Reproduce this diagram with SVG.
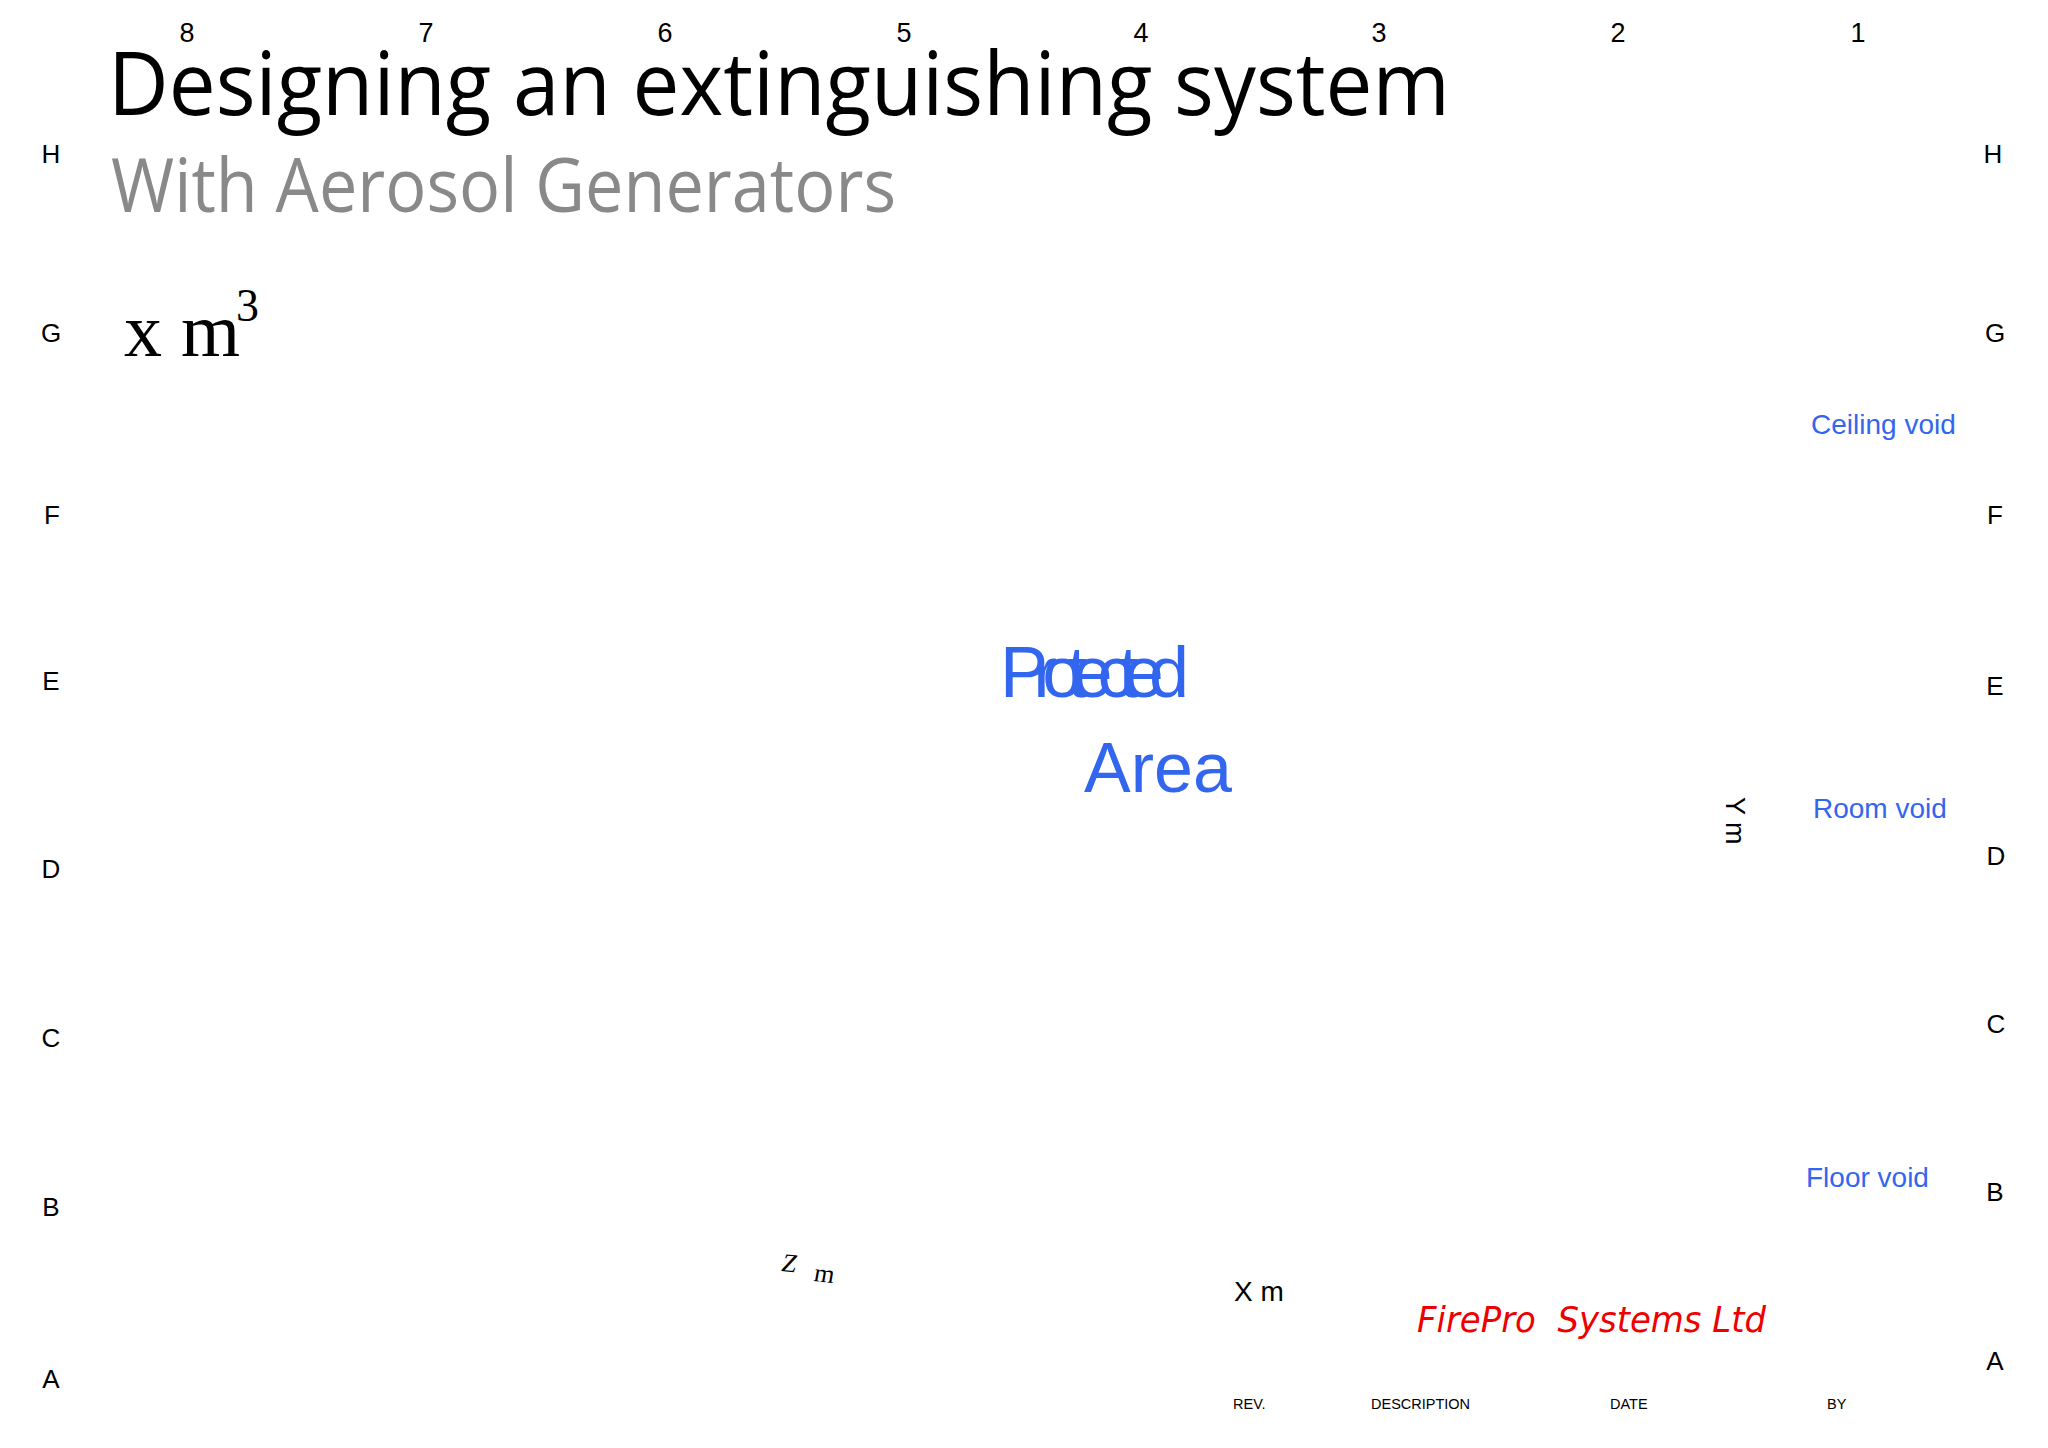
<svg xmlns="http://www.w3.org/2000/svg" width="2048" height="1448" viewBox="0 0 2048 1448">
<style>
.bg{fill:#ffffff}
.grid{font-family:"Liberation Sans",Arial,sans-serif;font-size:26px;fill:#000000;text-anchor:middle}
.col{font-family:"Liberation Sans",Arial,sans-serif;font-size:27px;fill:#000000;text-anchor:middle}
.title{font-family:"Open Sans","Noto Sans",sans-serif;fill:#000000}
.sub{font-family:"Open Sans","Noto Sans",sans-serif;fill:#898989}
.serif{font-family:"Liberation Serif","Times New Roman",serif;fill:#000000}
.blue{font-family:"Liberation Sans",Arial,sans-serif;fill:#3366EE}
.lbl{font-family:"Liberation Sans",Arial,sans-serif;fill:#000000}
.red{font-family:"DejaVu Sans",Verdana,sans-serif;font-style:italic;fill:#EE0000;white-space:pre}
.tb{font-family:"Liberation Sans",Arial,sans-serif;font-size:14.5px;fill:#000000}
</style>
<rect class="bg" x="0" y="0" width="2048" height="1448"/>
<g id="column-numbers">
<text class="col" x="187" y="42">8</text>
<text class="col" x="426" y="42">7</text>
<text class="col" x="665" y="42">6</text>
<text class="col" x="904" y="42">5</text>
<text class="col" x="1141" y="42">4</text>
<text class="col" x="1379" y="42">3</text>
<text class="col" x="1618" y="42">2</text>
<text class="col" x="1858" y="42">1</text>
</g>
<g id="row-letters-left">
<text class="grid" x="51" y="163">H</text>
<text class="grid" x="51" y="342">G</text>
<text class="grid" x="52" y="524">F</text>
<text class="grid" x="51" y="690">E</text>
<text class="grid" x="51" y="878">D</text>
<text class="grid" x="51" y="1047">C</text>
<text class="grid" x="51" y="1216">B</text>
<text class="grid" x="51" y="1388">A</text>
</g>
<g id="row-letters-right">
<text class="grid" x="1993" y="163">H</text>
<text class="grid" x="1995" y="342">G</text>
<text class="grid" x="1995" y="524">F</text>
<text class="grid" x="1995" y="695">E</text>
<text class="grid" x="1996" y="865">D</text>
<text class="grid" x="1996" y="1033">C</text>
<text class="grid" x="1995" y="1201">B</text>
<text class="grid" x="1995" y="1370">A</text>
</g>
<g id="title">
<text class="title" x="108" y="115" font-size="88" textLength="1342" lengthAdjust="spacingAndGlyphs">Designing an extinguishing system</text>
<text class="sub" x="111" y="212" font-size="75" textLength="785" lengthAdjust="spacingAndGlyphs">With Aerosol Generators</text>
</g>
<g id="volume">
<text class="serif" x="124" y="356" font-size="76">x m</text>
<text class="serif" x="236" y="321" font-size="46">3</text>
</g>
<g id="protected-area">
<text class="blue" x="1000" y="697" font-size="72" textLength="189" lengthAdjust="spacing">Protected</text>
<text class="blue" x="1084" y="792" font-size="70">Area</text>
</g>
<g id="void-labels">
<text class="blue" x="1811" y="434" font-size="28">Ceiling void</text>
<text class="blue" x="1813" y="818" font-size="28">Room void</text>
<text class="blue" x="1806" y="1187" font-size="28">Floor void</text>
</g>
<g id="dimensions">
<text class="lbl" font-size="27" transform="translate(1726,797) rotate(90)">Y m</text>
<text class="lbl" x="1234" y="1301" font-size="28">X m</text>
<text class="serif" font-size="26" font-style="italic" transform="translate(781,1271) rotate(6)">Z</text>
<text class="serif" font-size="26" transform="translate(813,1281) rotate(6) skewX(-4)">m</text>
</g>
<g id="company">
<text class="red" x="1417" y="1332" font-size="35" textLength="349" lengthAdjust="spacingAndGlyphs" xml:space="preserve">FirePro  Systems Ltd</text>
</g>
<g id="title-block">
<text class="tb" x="1233" y="1409">REV.</text>
<text class="tb" x="1371" y="1409">DESCRIPTION</text>
<text class="tb" x="1610" y="1409">DATE</text>
<text class="tb" x="1827" y="1409">BY</text>
</g>
<g id="connectors"></g>
</svg>
